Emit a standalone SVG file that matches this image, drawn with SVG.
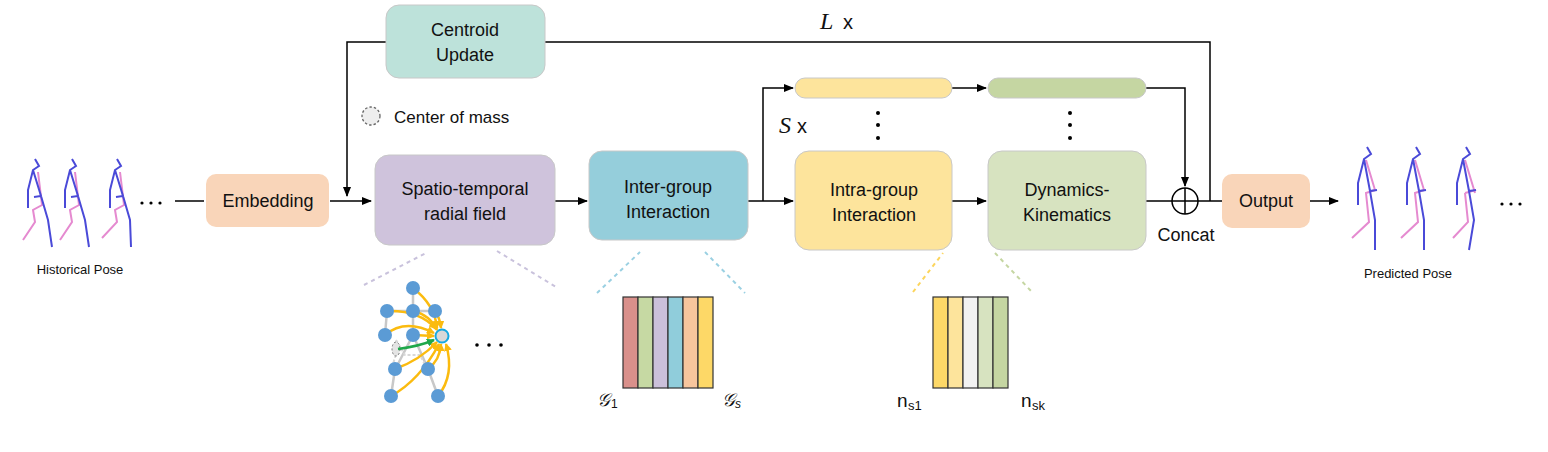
<svg xmlns="http://www.w3.org/2000/svg" width="1548" height="452" viewBox="0 0 1548 452">
<defs>
<marker id="ah" markerWidth="10" markerHeight="8" refX="9" refY="4" orient="auto" markerUnits="userSpaceOnUse"><path d="M0,0 L10,4 L0,8 z" fill="#000"/></marker>
<marker id="ya" markerWidth="8" markerHeight="8" refX="7" refY="4" orient="auto" markerUnits="userSpaceOnUse"><path d="M0,0 L8,4 L0,8 z" fill="#fbbb0f"/></marker>
<marker id="ga" markerWidth="8" markerHeight="8" refX="7" refY="4" orient="auto" markerUnits="userSpaceOnUse"><path d="M0,0 L8,4 L0,8 z" fill="#1fa84a"/></marker>
</defs>
<style>
text{font-family:"Liberation Sans",Arial,sans-serif;fill:#111}
text.ser{font-family:"Liberation Serif","Times New Roman",serif;font-style:italic}
.lbl{font-size:18px;text-anchor:middle}
.box{stroke:#c8c8c8;stroke-width:1}
.ln{stroke:#000;stroke-width:1.5;fill:none}
.dash{stroke-width:2;stroke-dasharray:4 4;fill:none}
.blue{stroke:#4a4ad8;stroke-width:2;fill:none}
.pink{stroke:#e58ad0;stroke-width:2;fill:none}
.node{fill:#5b9bd5}
.ya{stroke:#fbbb0f;stroke-width:2.5;fill:none}
.bar{stroke:#333;stroke-width:1.2}
</style>
<g id="connectors">
<path class="ln" d="M175,201 H204"/>
<path class="ln" d="M330,201 H371" marker-end="url(#ah)"/>
<path class="ln" d="M1210,201 V42 H347 V196" marker-end="url(#ah)"/>
<path class="ln" d="M555,201 H587" marker-end="url(#ah)"/>
<path class="ln" d="M748,201 H793" marker-end="url(#ah)"/>
<path class="ln" d="M763,201 V88 H793" marker-end="url(#ah)"/>
<path class="ln" d="M952,88 H986" marker-end="url(#ah)"/>
<path class="ln" d="M1146,88 H1185 V186" marker-end="url(#ah)"/>
<path class="ln" d="M952,201 H986" marker-end="url(#ah)"/>
<path class="ln" d="M1146,201 H1172 M1198,201 H1222"/>
<path class="ln" d="M1310,201 H1338" marker-end="url(#ah)"/>
<circle cx="1185" cy="201" r="13" class="ln" stroke-width="2"/>
<path class="ln" stroke-width="2" d="M1172,201 H1198 M1185,188 V214"/>
<path class="dash" stroke="#c9c2dc" d="M364,285 L428,252 M497,251 L556,287"/>
<path class="dash" stroke="#9ad0e2" d="M597,293 L640,252 M705,252 L745,293"/>
<path class="dash" stroke="#fcd55c" d="M913,292 L943,253"/>
<path class="dash" stroke="#c5d6a2" d="M995,253 L1032,292"/>
</g>
<g id="centroid"><rect class="box" x="386" y="5" width="159" height="73" rx="13" fill="#bde2da"/><text class="lbl" x="465" y="36">Centroid</text><text class="lbl" x="465" y="61">Update</text></g>
<g id="embedding"><rect x="206" y="174" width="123" height="53" rx="10" fill="#f9d5b9"/><text class="lbl" x="268" y="207">Embedding</text></g>
<g id="spatio"><rect class="box" x="375" y="155" width="180" height="90" rx="14" fill="#cfc3dc" stroke="#aaa"/><text class="lbl" x="465" y="195">Spatio-temporal</text><text class="lbl" x="465" y="220">radial field</text></g>
<g id="inter"><rect class="box" x="589" y="151" width="159" height="89" rx="13" fill="#95cedb"/><text class="lbl" x="668" y="193">Inter-group</text><text class="lbl" x="668" y="218">Interaction</text></g>
<g id="intra"><rect class="box" x="795" y="151" width="157" height="99" rx="14" fill="#fde49c"/><text class="lbl" x="874" y="196">Intra-group</text><text class="lbl" x="874" y="221">Interaction</text></g>
<g id="dynamics"><rect class="box" x="988" y="151" width="158" height="99" rx="14" fill="#d7e3c0"/><text class="lbl" x="1067" y="196">Dynamics-</text><text class="lbl" x="1067" y="221">Kinematics</text></g>
<g id="pill1"><rect class="box" x="795" y="78" width="157" height="20" rx="10" fill="#fde49c"/></g>
<g id="pill2"><rect class="box" x="988" y="78" width="158" height="20" rx="10" fill="#c5d6a2"/></g>
<g id="output"><rect x="1222" y="174" width="88" height="54" rx="10" fill="#f9d5b9"/><text class="lbl" x="1266" y="207">Output</text></g>
<g id="labels">
<text class="ser" x="820" y="29" font-size="24">L</text><text x="843" y="29" font-size="20">x</text>
<text class="ser" x="779" y="133" font-size="24">S</text><text x="797" y="133" font-size="20">x</text>
<g fill="#000"><circle cx="878" cy="113" r="2"/><circle cx="878" cy="125" r="2"/><circle cx="878" cy="138" r="2"/><circle cx="1070" cy="113" r="2"/><circle cx="1070" cy="125" r="2"/><circle cx="1070" cy="138" r="2"/></g>
<text class="lbl" x="1186" y="241" font-size="17">Concat</text>
<circle cx="371" cy="116" r="9" fill="#eee" stroke="#666" stroke-width="1.3" stroke-dasharray="2.5 2"/>
<text x="394" y="123" font-size="17">Center of mass</text>
<text x="80" y="274" font-size="13" text-anchor="middle">Historical Pose</text>
<text x="1408" y="278" font-size="13" text-anchor="middle">Predicted Pose</text>
<g fill="#000"><circle cx="142" cy="203" r="1.6"/><circle cx="151" cy="203" r="1.6"/><circle cx="160" cy="203" r="1.6"/><circle cx="1502" cy="204" r="1.6"/><circle cx="1511" cy="204" r="1.6"/><circle cx="1520" cy="204" r="1.6"/><circle cx="477" cy="345" r="1.8"/><circle cx="489" cy="345" r="1.8"/><circle cx="501" cy="345" r="1.8"/></g>
</g>
<g id="hist-poses">
<g transform="translate(0,0)"><path class="pink" d="M38,172 L42,205 L33,210 L35,222 L23,240"/><path class="blue" d="M35,159 L39,166 L33,170 L28,190 L28,208 M33,170 L41,196 L34,197 M41,196 L48,220 L52,247"/></g>
<g transform="translate(37,0)"><path class="pink" d="M38,172 L42,205 L33,210 L35,222 L23,240"/><path class="blue" d="M35,159 L39,166 L33,170 L28,190 L28,208 M33,170 L41,196 L34,197 M41,196 L48,220 L52,247"/></g>
<g transform="translate(82,0)"><path class="pink" d="M38,172 L42,205 L33,210 L35,222 L20,238"/><path class="blue" d="M35,159 L39,166 L33,170 L28,190 L28,208 M33,170 L41,196 L34,197 M41,196 L48,220 L49,247"/></g>
</g>
<g id="pred-poses">
<g transform="translate(1358,0)"><path class="pink" d="M8,160 L17,190 L8,193 L11,222 L-6,238"/><path class="blue" d="M9,147 L13,154 L6,159 L0,183 L0,205 M6,159 L12,191 L19,190 M12,191 L17,220 L17,250"/></g>
<g transform="translate(1407,0)"><path class="pink" d="M8,160 L17,190 L8,193 L11,222 L-6,238"/><path class="blue" d="M9,147 L13,154 L6,159 L0,183 L0,205 M6,159 L12,191 L19,190 M12,191 L17,220 L17,250"/></g>
<g transform="translate(1457,0)"><path class="pink" d="M8,160 L18,193 M8,193 L11,222 L-4,238 M8,193 L19,190"/><path class="blue" d="M9,147 L13,154 L6,159 L0,183 L0,205 M6,159 L12,191 L19,190 M12,191 L17,220 L12,250"/></g>
</g>
<g id="graph">
<path stroke="#c8c8c8" stroke-width="2.5" fill="none" d="M387,311 L413,311 L435,311 M413,288 L413,311 M387,311 L385,335 M413,311 L413,335 M413,335 L399,362 L395,369 M413,335 L428,369 L438,396 M395,369 L391,396"/>
<path stroke="#d8d8d8" stroke-width="2" stroke-dasharray="3 2" fill="none" d="M396,340 L405,355 L420,355 L425,365 M397,350 L392,368"/>
<ellipse cx="396" cy="349" rx="4" ry="7" fill="#e4e4e4" stroke="#777" stroke-dasharray="2 2"/>
<path class="ya" d="M413,288 Q435,305 437,328" marker-end="url(#ya)"/>
<path class="ya" d="M387,311 Q420,310 436,329" marker-end="url(#ya)"/>
<path class="ya" d="M413,311 Q430,315 437,330" marker-end="url(#ya)"/>
<path class="ya" d="M435,311 Q440,318 441,328" marker-end="url(#ya)"/>
<path class="ya" d="M385,335 Q405,318 434,333" marker-end="url(#ya)"/>
<path class="ya" d="M413,335 L434,336" marker-end="url(#ya)"/>
<path class="ya" d="M395,369 Q420,360 437,342" marker-end="url(#ya)"/>
<path class="ya" d="M391,396 Q420,380 439,344" marker-end="url(#ya)"/>
<path class="ya" d="M428,369 Q440,360 441,344" marker-end="url(#ya)"/>
<path class="ya" d="M438,396 Q455,375 446,344" marker-end="url(#ya)"/>
<path stroke="#1fa84a" stroke-width="2.5" fill="none" d="M398,349 Q420,346 434,340" marker-end="url(#ga)"/>
<g class="node"><circle cx="413" cy="288" r="7"/><circle cx="387" cy="311" r="7"/><circle cx="413" cy="311" r="7"/><circle cx="435" cy="311" r="7"/><circle cx="385" cy="335" r="7"/><circle cx="413" cy="335" r="7"/><circle cx="395" cy="369" r="7"/><circle cx="428" cy="369" r="7"/><circle cx="391" cy="396" r="7"/><circle cx="438" cy="396" r="7"/></g>
<circle cx="442" cy="336" r="6.5" fill="#d8d8d8" stroke="#17a9e1" stroke-width="2"/>
</g>
<g id="group-bars">
<rect class="bar" x="623" y="297" width="15" height="91" fill="#d9908b"/><rect class="bar" x="638" y="297" width="15" height="91" fill="#c6d9a3"/><rect class="bar" x="653" y="297" width="15" height="91" fill="#cbc0da"/><rect class="bar" x="668" y="297" width="15" height="91" fill="#90cddb"/><rect class="bar" x="683" y="297" width="15" height="91" fill="#f7c59d"/><rect class="bar" x="698" y="297" width="15" height="91" fill="#fdd867"/>
<text class="ser" x="597" y="406" font-size="18">𝒢</text><text x="611" y="408" font-size="12">1</text>
<text class="ser" x="722" y="406" font-size="18">𝒢</text><text x="735" y="408" font-size="12" font-style="italic">s</text>
</g>
<g id="node-bars">
<rect class="bar" x="933" y="297" width="15" height="91" fill="#fdd867"/><rect class="bar" x="948" y="297" width="15" height="91" fill="#fde49c"/><rect class="bar" x="963" y="297" width="15" height="91" fill="#f2f2f2"/><rect class="bar" x="978" y="297" width="15" height="91" fill="#d7e3c0"/><rect class="bar" x="993" y="297" width="15" height="91" fill="#c5d6a2"/>
<text x="897" y="407" font-size="19">n</text><text x="908" y="410" font-size="13">s1</text>
<text x="1021" y="407" font-size="19">n</text><text x="1032" y="410" font-size="13">sk</text>
</g>
</svg>
